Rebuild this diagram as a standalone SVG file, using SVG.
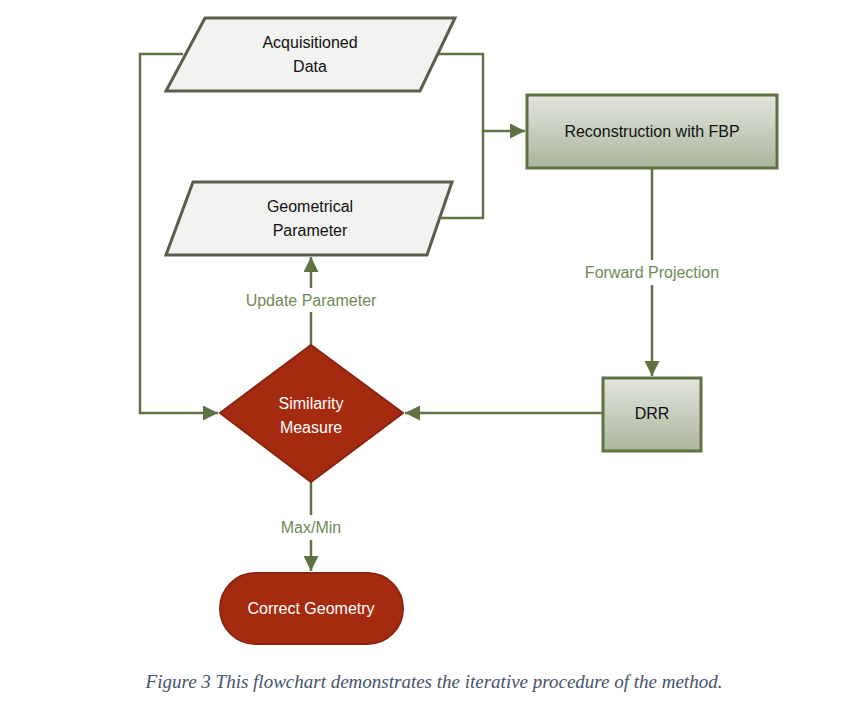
<svg xmlns="http://www.w3.org/2000/svg" width="846" height="701" viewBox="0 0 846 701">
<style>
.io{fill:#f2f2f0;stroke:#5e5c4a;stroke-width:3}
.box{fill:url(#g);stroke:#5e7341;stroke-width:3}
.red{fill:#a52b10;stroke:#8a2410;stroke-width:2}
.c{fill:none;stroke:#5e7341;stroke-width:2.5}
.t{font-family:"Liberation Sans",Arial,sans-serif;font-size:16px;text-anchor:middle;fill:#111}
.w{fill:#fff}
.l{font-family:"Liberation Sans",Arial,sans-serif;font-size:16px;text-anchor:middle;fill:#6f8a55}
</style>
<defs>
<linearGradient id="g" x1="0" y1="0" x2="0" y2="1"><stop offset="0" stop-color="#e4e6df"/><stop offset="1" stop-color="#a9b59b"/></linearGradient>
<marker id="a" viewBox="0 0 10 10" refX="10" refY="5" markerWidth="6" markerHeight="6" orient="auto"><path d="M0,0L10,5L0,10z" fill="#5e7341"/></marker>
</defs>
<g id="connectors">
<polyline class="c" points="183,54 140,54 140,413 218,413" marker-end="url(#a)"/>
<polyline class="c" points="438,54 483,54 483,218 440,218"/>
<line class="c" x1="483" y1="131" x2="525" y2="131" marker-end="url(#a)"/>
<line class="c" x1="652" y1="168" x2="652" y2="260"/>
<line class="c" x1="652" y1="285" x2="652" y2="376" marker-end="url(#a)"/>
<line class="c" x1="602" y1="413" x2="405" y2="413" marker-end="url(#a)"/>
<line class="c" x1="311" y1="345" x2="311" y2="312"/>
<line class="c" x1="311" y1="288" x2="311" y2="257" marker-end="url(#a)"/>
<line class="c" x1="311" y1="482" x2="311" y2="515"/>
<line class="c" x1="311" y1="540" x2="311" y2="571" marker-end="url(#a)"/>
<text class="l" x="652" y="278">Forward Projection</text>
<text class="l" x="311" y="306">Update Parameter</text>
<text class="l" x="311" y="533">Max/Min</text>
</g>
<g id="acq"><polygon class="io" points="205,18 455,18 420,91 166,91"/><text class="t" x="310" y="48">Acquisitioned</text><text class="t" x="310" y="72">Data</text></g>
<g id="geo"><polygon class="io" points="193,182 452,182 427,255 166,255"/><text class="t" x="310" y="212">Geometrical</text><text class="t" x="310" y="236">Parameter</text></g>
<g id="fbp"><rect class="box" x="527" y="95" width="250" height="73"/><text class="t" x="652" y="137">Reconstruction with FBP</text></g>
<g id="drr"><rect class="box" x="603" y="378" width="98" height="73"/><text class="t" x="652" y="419">DRR</text></g>
<g id="sim"><polygon class="red" points="311,345 403,413 311,482 220,413"/><text class="t w" x="311" y="409">Similarity</text><text class="t w" x="311" y="433">Measure</text></g>
<g id="correct"><rect class="red" x="220" y="573" width="183" height="71" rx="35.5"/><text class="t w" x="311" y="614">Correct Geometry</text></g>
<text x="434" y="688" font-family="Liberation Serif,serif" font-style="italic" font-size="19" fill="#44546a" text-anchor="middle">Figure 3  This flowchart demonstrates the iterative procedure of the method.</text>
</svg>
